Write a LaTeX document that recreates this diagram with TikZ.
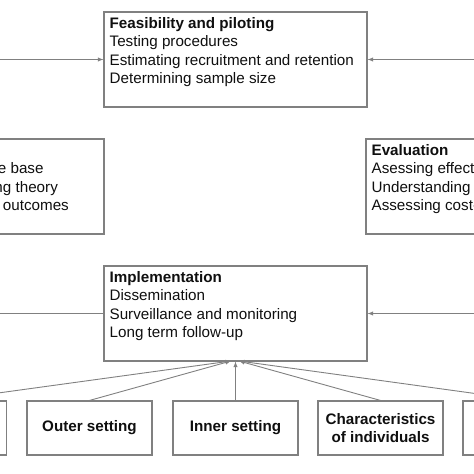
\documentclass[tikz,border=0pt]{standalone}
\usepackage{fontspec}
\setmainfont{Liberation Sans}
\definecolor{gris}{RGB}{128,128,128}
\definecolor{encre}{RGB}{15,15,15}
\begin{document}
\begin{tikzpicture}[x=1bp,y=-1bp]
	\tikzset{boite/.style={rectangle, draw=gris, line width=1.1bp, minimum width=263bp, minimum height=95bp, inner sep=0pt},
	texte/.style={anchor=north west, align=left, inner sep=6bp, text=encre, font=\fontsize{15.2bp}{18.3bp}\selectfont},
	petite/.style={rectangle, draw=gris, line width=1.1bp, minimum width=125bp, minimum height=54bp, align=center, text=encre, font=\fontsize{15.2bp}{18.3bp}\selectfont\bfseries},
	fleche/.style={draw=gris, line width=0.9bp}};

	\useasboundingbox (0,0) rectangle (474,474);
	\clip (0,0) rectangle (474,474);

	\node[boite] (faisab) at (235.5, 59.5) {};
	\node[texte] (faisabtxt) at (faisab.north west) {\textbf{Feasibility and piloting}\\Testing procedures\\Estimating recruitment and retention\\Determining sample size};

	\node[boite] (dev) at (-27.5, 186.5) {};
	\node[texte] (devtxt) at (dev.north west) {\textbf{Development}\\Identifying the evidence base\\Identifying or developing theory\\Modelling process and outcomes};

	\node[boite] (eval) at (497.5, 186.5) {};
	\node[texte] (evaltxt) at (eval.north west) {\textbf{Evaluation}\\Asessing effectiveness\\Understanding change process\\Assessing cost-effectiveness};

	\node[boite] (impl) at (235.5, 313.5) {};
	\node[texte] (impltxt) at (impl.north west) {\textbf{Implementation}\\Dissemination\\Surveillance and monitoring\\Long term follow-up};

	\foreach \x/\nom/\txt in {-56/interv/{Intervention\\characteristics}, 89.5/ext/{Outer setting}, 235.5/int/{Inner setting}, 380.5/indiv/{Characteristics\\of individuals}, 525.5/proc/{Process}}{
		\node[petite] (\nom) at (\x, 428) {\txt};
	}

	\coordinate (hg) at (-40, 59.5);
	\coordinate (hd) at (514, 59.5);
	\coordinate (bg) at (-40, 313.5);
	\coordinate (bd) at (514, 313.5);
	\coordinate (cg) at (231, 361);
	\coordinate (cd) at (239, 361);

	\draw[fleche,-latex] (hg) -- (faisab);
	\draw[fleche,-latex] (hd) -- (faisab);
	\draw[fleche] (bg) -- (impl);
	\draw[fleche,-latex] (bd) -- (impl);

	\foreach \nom in {interv, ext}{
		\draw[fleche,-latex] (\nom.north) -- (cg);
	}
	\draw[fleche,-latex] (int) -- (impl);
	\foreach \nom in {indiv, proc}{
		\draw[fleche,-latex] (\nom.north) -- (cd);
	}

\end{tikzpicture}
\end{document}
